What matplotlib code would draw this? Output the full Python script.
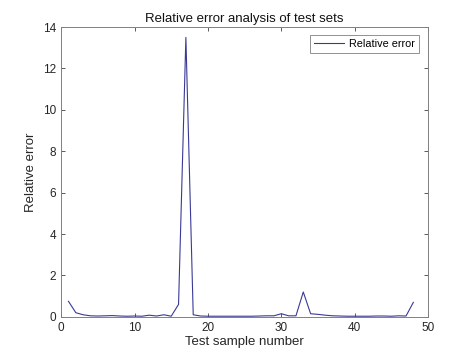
import numpy as np
import matplotlib.pyplot as plt

sample = np.arange(1, 49)
rel_err = [0.75, 0.2, 0.1, 0.05, 0.04, 0.05, 0.06, 0.04, 0.03, 0.04,
           0.03, 0.08, 0.04, 0.1, 0.03, 0.6, 13.5, 0.1, 0.04, 0.03,
           0.03, 0.03, 0.03, 0.03, 0.03, 0.03, 0.04, 0.05, 0.05, 0.15,
           0.05, 0.05, 1.2, 0.15, 0.12, 0.08, 0.05, 0.04, 0.03, 0.03,
           0.03, 0.03, 0.04, 0.04, 0.03, 0.05, 0.04, 0.7]

plt.rcParams['font.family'] = ['Liberation Sans', 'DejaVu Sans']

fig = plt.figure(figsize=(4.74, 3.56), dpi=100)
ax = fig.add_axes([0.129, 0.110, 0.774, 0.814])
ax.plot(sample, rel_err, color='#3a3a96', lw=0.8, label='Relative error')

ax.set_xlim(0, 50)
ax.set_ylim(0, 14)
ax.set_xticks(np.arange(0, 51, 10))
ax.set_yticks(np.arange(0, 15, 2))
ax.tick_params(direction='in', top=True, right=True, length=3, width=0.6,
               colors='#404040', labelsize=8.5, labelcolor='#262626')
for s in ax.spines.values():
    s.set_color('#808080')
    s.set_linewidth(0.7)

ax.set_xlabel('Test sample number', fontsize=9.5, color='#262626', labelpad=2)
ax.set_ylabel('Relative error', fontsize=9.5, color='#262626', labelpad=4)
ax.set_title('Relative error analysis of test sets', fontsize=9.5, color='#111111', pad=4)

leg = ax.legend(loc='upper right', fontsize=7.8, fancybox=False, framealpha=1,
                edgecolor='#808080', handlelength=2.8, handletextpad=0.5,
                borderpad=0.35, bbox_to_anchor=(0.99, 0.99))
leg.get_frame().set_linewidth(0.6)

fig.savefig('out.png', dpi=100)
